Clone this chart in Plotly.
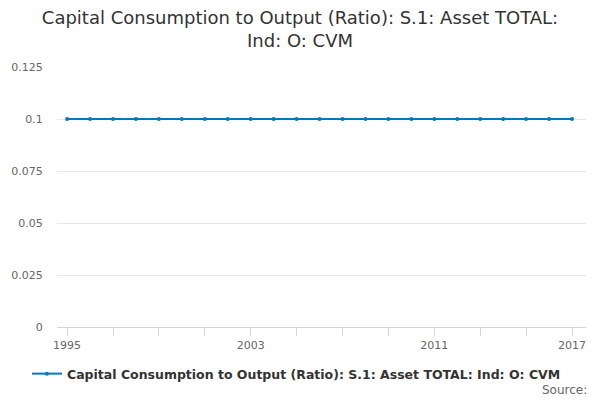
import plotly.graph_objects as go

# data
years = list(range(1995, 2018))
ratio = [0.1] * len(years)
series_name = 'Capital Consumption to Output (Ratio): S.1: Asset TOTAL: Ind: O: CVM'
tick_years = list(range(1995, 2018, 2))
label_years = [1995, 2003, 2011, 2017]
y_ticks = [0, 0.025, 0.05, 0.075, 0.1, 0.125]
y_labels = ['0', '0.025', '0.05', '0.075', '0.1', '0.125']

fig = go.Figure()
fig.add_trace(go.Scatter(
    x=years, y=ratio, name='<b>' + series_name + '</b>',
    mode='lines+markers',
    line=dict(color='#0078bf', width=2),
    marker=dict(size=4, color='#0078bf'),
))

# page has an 8px body margin, so everything is placed 8px up/left
fig.update_layout(
    width=600, height=400,
    margin=dict(l=49, r=22, t=59, b=81),
    paper_bgcolor='white', plot_bgcolor='white',
    font=dict(family='DejaVu Sans', color='#666666'),
    title=dict(
        text='Capital Consumption to Output (Ratio): S.1: Asset TOTAL:<br>Ind: O: CVM',
        x=(300 - 8) / 600, xanchor='center', xref='container',
        y=1 - 16 / 400, yanchor='middle', yref='container',
        font=dict(size=18, color='#333333'),
    ),
    showlegend=True,
    legend=dict(
        orientation='h', xref='container', x=288.5 / 600, xanchor='center',
        yref='container', y=1 - 366 / 400, yanchor='middle',
        font=dict(size=12.5, color='#333333', family='DejaVu Sans'),
    ),
)

fig.update_xaxes(
    range=[1994.56, 2017.61],
    tickvals=tick_years,
    ticktext=[str(y) if y in label_years else '' for y in tick_years],
    ticks='outside', ticklen=8, tickcolor='#ccd6eb',
    showline=True, linecolor='#ccd6eb', linewidth=1,
    showgrid=False, zeroline=False, automargin=False,
    tickfont=dict(size=11, color='#666666'),
)
fig.update_yaxes(
    range=[0, 0.125],
    tickvals=y_ticks, ticktext=y_labels,
    gridcolor='#e6e6e6', zeroline=False, showline=False, automargin=False,
    ticks='outside', ticklen=11, tickcolor='white',
    tickfont=dict(size=11, color='#666666'),
)

fig.add_annotation(
    text='Source:', xref='paper', yref='paper', x=1.0057, y=-0.242,
    xanchor='right', yanchor='middle', showarrow=False,
    font=dict(size=12, color='#666666'),
)

fig.write_html('out.html')
